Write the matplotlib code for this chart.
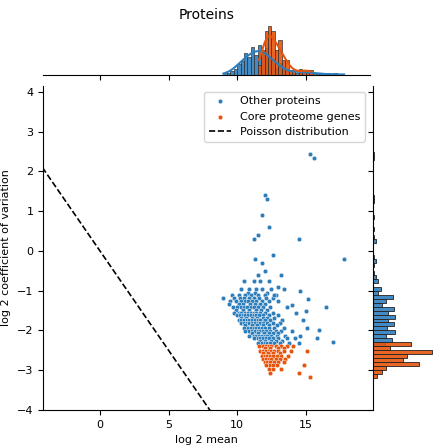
import numpy as np
import matplotlib
matplotlib.use("Agg")
import matplotlib.pyplot as plt
import seaborn as sns

blue_rows = {
 -0.75: [10.5, 11.2, 11.7, 12.3],
 -0.95: [10.3, 10.9, 11.4, 11.8, 12.5, 13.4],
 -1.05: [10.8, 11.3, 12.2],
 -1.12: [9.6, 10.1, 10.6, 11.0, 11.5, 12.0, 12.8],
 -1.18: [9.0, 9.8, 10.2, 10.5, 10.9, 11.2, 11.6, 12.1, 12.6],
 -1.27: [9.5, 9.9, 10.3, 10.6, 10.8, 11.1, 11.4, 11.8, 12.3, 13.0],
 -1.33: [9.4, 10.15, 10.45, 10.95, 11.3, 11.65, 12.05],
 -1.42: [9.7, 10.0, 10.3, 10.5, 10.7, 11.0, 11.2, 11.5, 11.9, 12.4, 13.6],
 -1.48: [9.9, 10.4, 10.85, 11.35, 11.75, 12.2],
 -1.55: [9.8, 10.1, 10.3, 10.6, 10.8, 11.0, 11.2, 11.4, 11.7, 12.0, 12.6, 14.3],
 -1.62: [10.0, 10.2, 10.4, 10.6, 10.8, 11.0, 11.2, 11.4, 11.6, 11.9, 12.3, 13.0],
 -1.68: [10.25, 10.65, 11.05, 11.45, 11.85, 12.15, 12.7],
 -1.74: [10.1, 10.3, 10.5, 10.7, 10.9, 11.1, 11.3, 11.5, 11.7, 12.0, 12.4, 13.3, 14.8],
 -1.82: [10.3, 10.5, 10.7, 10.9, 11.1, 11.3, 11.5, 11.7, 11.9, 12.2, 12.6, 13.1],
 -1.87: [10.6, 11.05, 11.45, 11.85, 12.35, 12.9],
 -1.93: [10.5, 10.8, 11.0, 11.2, 11.4, 11.6, 11.8, 12.0, 12.3, 12.7, 13.4, 15.1],
 -2.02: [10.6, 10.9, 11.1, 11.3, 11.5, 11.7, 11.9, 12.1, 12.4, 12.8, 13.2, 14.0],
 -2.07: [11.05, 11.55, 11.95, 12.3, 12.65, 13.0],
 -2.13: [10.9, 11.2, 11.4, 11.6, 11.8, 12.0, 12.2, 12.5, 12.9, 13.5, 14.6],
 -2.2: [11.2, 11.5, 11.7, 11.9, 12.1, 12.3, 12.6, 13.0, 13.6, 14.2, 15.8],
 -2.26: [11.65, 12.05, 12.45, 12.85, 13.3],
 -2.32: [11.5, 11.8, 12.0, 12.2, 12.4, 12.7, 13.1, 13.8, 14.5],
}
blue_outliers_x = [12.0, 12.2, 11.8, 12.3, 11.5, 11.2, 14.5, 12.6, 11.3, 12.0, 13.2, 17.8, 15.3, 15.6,
                   14.0, 15.0, 16.5, 17.0, 16.0, 15.2, 14.6, 12.7, 13.0, 11.5, 11.8]
blue_outliers_y = [1.4, 1.3, 0.9, 0.6, 0.4, 0.3, 0.3, -0.1, -0.2, -0.5, -0.6, -0.2, 2.45, 2.35,
                   -1.35, -1.5, -1.4, -2.3, -2.0, -1.2, -1.0, -1.1, -0.9, -0.6, -0.3]
orange_rows = {
 -2.38: [11.6, 11.9, 12.1, 12.3, 12.5, 12.8, 13.2, 13.6, 14.1],
 -2.45: [12.0, 12.4, 12.95, 13.4],
 -2.52: [11.7, 11.9, 12.1, 12.3, 12.5, 12.7, 13.0, 13.4, 13.9, 15.1],
 -2.58: [11.85, 12.25, 12.65, 13.1],
 -2.64: [11.8, 12.0, 12.2, 12.4, 12.6, 12.9, 13.2, 13.7],
 -2.72: [11.9, 12.1, 12.3, 12.5, 12.8, 13.1, 13.5],
 -2.8: [12.0, 12.2, 12.4, 12.7, 13.0, 13.4],
 -2.88: [12.1, 12.4, 12.6, 12.9, 14.9],
 -2.98: [12.3, 12.6, 13.2],
 -3.08: [12.4, 14.5],
 -3.18: [15.3],
}

bx = [x for y, xs in blue_rows.items() for x in xs] + blue_outliers_x
by = [y for y, xs in blue_rows.items() for x in xs] + blue_outliers_y
ox = [x for y, xs in orange_rows.items() for x in xs]
oy = [y for y, xs in orange_rows.items() for x in xs]

BLUE = '#2e7ebc'
ORANGE = '#e6550d'

fig = plt.figure(figsize=(4.35, 4.48), dpi=100)
ax = fig.add_axes([0.099, 0.085, 0.752, 0.723])
axt = fig.add_axes([0.099, 0.833, 0.752, 0.115], sharex=ax)
axr = fig.add_axes([0.858, 0.085, 0.142, 0.723], sharey=ax)

ax.scatter(bx, by, s=11, c=BLUE, edgecolors='white', linewidths=0.3, label='Other proteins')
ax.scatter(ox, oy, s=11, c=ORANGE, edgecolors='white', linewidths=0.3, label='Core proteome genes')
xl = np.array([-4.2, 20])
ax.plot(xl, -0.5 * xl, 'k--', lw=1.2, label='Poisson distribution')
ax.set_xlim(-4.15, 19.7)
ax.set_ylim(-4, 4.15)
ax.set_xticks([0, 5, 10, 15])
ax.set_xlabel('log 2 mean', fontsize=8)
ax.set_ylabel('log 2 coefficient of variation', fontsize=8)
ax.tick_params(labelsize=8)
for s in ['top', 'right']:
    ax.spines[s].set_visible(False)
ax.legend(loc='upper right', fontsize=8, markerscale=1.0)

bins_x = np.arange(8.5, 17.6, 0.25)
sns.histplot(x=bx, ax=axt, bins=bins_x, stat='density', color=BLUE, kde=True, alpha=0.9, edgecolor='#333333', linewidth=0.5)
sns.histplot(x=ox, ax=axt, bins=bins_x, stat='density', color=ORANGE, kde=True, alpha=0.9, edgecolor='#333333', linewidth=0.5)
bins_y = np.arange(-3.3, 2.6, 0.1)
sns.histplot(y=by, ax=axr, bins=bins_y, stat='density', color=BLUE, alpha=0.9, edgecolor='#222222', linewidth=0.6)
sns.histplot(y=oy, ax=axr, bins=bins_y, stat='density', color=ORANGE, alpha=0.9, edgecolor='#222222', linewidth=0.6)

axt.set_title('Proteins', fontsize=10, pad=3)
axt.set_ylabel(''); axr.set_xlabel('')
for s in ['top', 'right', 'left']:
    axt.spines[s].set_visible(False)
axt.set_yticks([])
axt.tick_params(labelbottom=False)
for s in ['top', 'right', 'bottom']:
    axr.spines[s].set_visible(False)
axr.set_xticks([])
axr.tick_params(labelleft=False)

fig.savefig('out.png', dpi=100)
